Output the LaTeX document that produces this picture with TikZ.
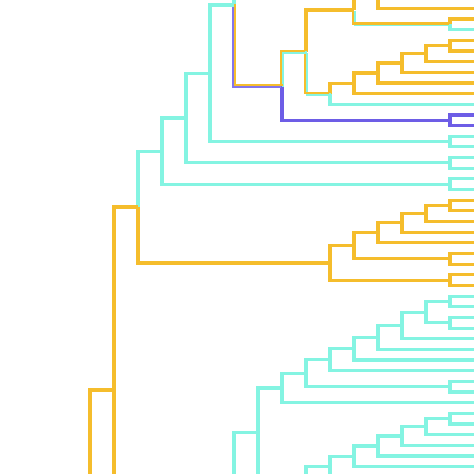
\documentclass[tikz,border=0pt]{standalone}
\definecolor{org}{HTML}{F5BD2C}
\definecolor{cyn}{HTML}{84F4E2}
\definecolor{prp}{HTML}{6D5DE6}
\tikzset{
  br/.style={line width=3.2pt, line cap=butt, line join=miter},
  o/.style={br, draw=org},
  c/.style={br, draw=cyn},
  p/.style={br, draw=prp},
  mixlo/.style={br, line width=2.6pt, draw=cyn, transform canvas={xshift=0.9pt,yshift=-0.9pt}},
  mixhi/.style={br, line width=2.6pt, draw=org, transform canvas={xshift=-0.9pt,yshift=0.9pt}},
  polo/.style={br, line width=2.4pt, draw=org, transform canvas={xshift=1pt,yshift=1pt}},
  pohi/.style={br, line width=2.4pt, draw=prp!85!white, transform canvas={xshift=-1pt,yshift=-1pt}},
}
\newcommand\elbowOC[2]{\draw[mixlo] (#1) |- (#2); \draw[mixhi] (#1) |- (#2);}
\newcommand\elbowPO[2]{\draw[polo] (#1) |- (#2); \draw[pohi] (#1) |- (#2);}
\begin{document}
\begin{tikzpicture}[x=1pt,y=-1pt]
\useasboundingbox (0,0) rectangle (474,474);
\clip (0,0) rectangle (474,474);
% leaves
\foreach \k in {0,...,44} {\coordinate (k\k) at (480,{8.3+10.66*\k});}
% off-image children
\coordinate (Aup) at (480,-17);
\coordinate (Hup) at (258,-76);
\coordinate (Mlow) at (138,573);
\coordinate (S6low) at (330,488);
\coordinate (Tlow) at (258,560);
% internal nodes: top part
\coordinate (A) at (378,-4.3);
\coordinate (P12) at (450,24.29);
\coordinate (B) at (354,10);
\coordinate (P34) at (450,45.61);
\coordinate (N5) at (426,53.6);
\coordinate (N6) at (402,62.93);
\coordinate (E) at (378,72.93);
\coordinate (D) at (354,83.25);
\coordinate (C) at (330,93.75);
\coordinate (F) at (306,51.87);
\coordinate (P1011) at (450,120.23);
\coordinate (G) at (282,86.05);
\coordinate (H) at (234,5);
\coordinate (P1213) at (450,141.55);
\coordinate (I) at (210,73.28);
\coordinate (P1415) at (450,162.87);
\coordinate (J) at (186,118.07);
\coordinate (P1617) at (450,184.19);
\coordinate (K) at (162,151.13);
% orange cluster
\coordinate (P1819) at (450,205.51);
\coordinate (O1) at (426,213.5);
\coordinate (O2) at (402,222.83);
\coordinate (O3) at (378,232.83);
\coordinate (P2324) at (450,258.81);
\coordinate (O4) at (354,245.82);
\coordinate (P2526) at (450,280.13);
\coordinate (O5) at (330,262.98);
\coordinate (L) at (138,207.05);
\coordinate (M) at (114,390);
\coordinate (R) at (90,600);
% lower cyan cluster
\coordinate (P2728) at (450,301.45);
\coordinate (P2930) at (450,322.77);
\coordinate (Q1) at (426,312.11);
\coordinate (Q2) at (402,325.44);
\coordinate (Q3) at (378,337.43);
\coordinate (Q4) at (354,348.76);
\coordinate (Q5) at (330,359.75);
\coordinate (P3536) at (450,386.73);
\coordinate (Q6) at (306,373.24);
\coordinate (Q7) at (282,387.98);
\coordinate (P3839) at (450,418.71);
\coordinate (S1) at (426,426.7);
\coordinate (S2) at (402,436.03);
\coordinate (S3) at (378,446.03);
\coordinate (S4) at (354,456.35);
\coordinate (S5) at (330,466.85);
\coordinate (S6) at (306,477.4);
\coordinate (Q8) at (258,432.7);
\coordinate (T) at (234,520);

% ---- top part
\draw[o] (A) |- (Aup);
\draw[o] (A) |- (k0);
\draw[o] (B) |- (A);
\draw[o] (P12) |- (k1);
\draw[c] (P12) |- (k2);
\elbowOC{B}{P12}
\draw[o] (P34) |- (k3);
\draw[o] (P34) |- (k4);
\draw[o] (N5) |- (P34);
\draw[o] (N5) |- (k5);
\draw[o] (N6) |- (N5);
\draw[o] (N6) |- (k6);
\draw[o] (E) |- (N6);
\draw[o] (E) |- (k7);
\draw[o] (D) |- (E);
\draw[o] (D) |- (k8);
\draw[o] (C) |- (D);
\draw[c] (C) |- (k9);
\draw[o] (F) |- (B);
\elbowOC{F}{C}
\draw[p] (P1011) |- (k10);
\draw[p] (P1011) |- (k11);
\draw[p] (G) |- (P1011);
\elbowOC{G}{F}
\draw[c] (H) |- (Hup);
\elbowPO{H}{G}
\draw[c] (P1213) |- (k12);
\draw[c] (P1213) |- (k13);
\draw[c] (I) |- (H);
\draw[c] (I) |- (P1213);
\draw[c] (P1415) |- (k14);
\draw[c] (P1415) |- (k15);
\draw[c] (J) |- (I);
\draw[c] (J) |- (P1415);
\draw[c] (P1617) |- (k16);
\draw[c] (P1617) |- (k17);
\draw[c] (K) |- (J);
\draw[c] (K) |- (P1617);
% ---- orange cluster
\draw[o] (P1819) |- (k18);
\draw[o] (P1819) |- (k19);
\draw[o] (O1) |- (P1819);
\draw[o] (O1) |- (k20);
\draw[o] (O2) |- (O1);
\draw[o] (O2) |- (k21);
\draw[o] (O3) |- (O2);
\draw[o] (O3) |- (k22);
\draw[o] (P2324) |- (k23);
\draw[o] (P2324) |- (k24);
\draw[o] (O4) |- (O3);
\draw[o] (O4) |- (P2324);
\draw[o] (P2526) |- (k25);
\draw[o] (P2526) |- (k26);
\draw[o] (O5) |- (O4);
\draw[o] (O5) |- (P2526);
\draw[c] (L) |- (K);
\draw[o] (L) |- (O5);
\draw[o] (M) |- (L);
\draw[o] (M) |- (Mlow);
\draw[o] (R) |- (M);
% ---- lower cyan cluster
\draw[c] (P2728) |- (k27);
\draw[c] (P2728) |- (k28);
\draw[c] (P2930) |- (k29);
\draw[c] (P2930) |- (k30);
\draw[c] (Q1) |- (P2728);
\draw[c] (Q1) |- (P2930);
\draw[c] (Q2) |- (Q1);
\draw[c] (Q2) |- (k31);
\draw[c] (Q3) |- (Q2);
\draw[c] (Q3) |- (k32);
\draw[c] (Q4) |- (Q3);
\draw[c] (Q4) |- (k33);
\draw[c] (Q5) |- (Q4);
\draw[c] (Q5) |- (k34);
\draw[c] (P3536) |- (k35);
\draw[c] (P3536) |- (k36);
\draw[c] (Q6) |- (Q5);
\draw[c] (Q6) |- (P3536);
\draw[c] (Q7) |- (Q6);
\draw[c] (Q7) |- (k37);
\draw[c] (P3839) |- (k38);
\draw[c] (P3839) |- (k39);
\draw[c] (S1) |- (P3839);
\draw[c] (S1) |- (k40);
\draw[c] (S2) |- (S1);
\draw[c] (S2) |- (k41);
\draw[c] (S3) |- (S2);
\draw[c] (S3) |- (k42);
\draw[c] (S4) |- (S3);
\draw[c] (S4) |- (k43);
\draw[c] (S5) |- (S4);
\draw[c] (S5) |- (k44);
\draw[c] (S6) |- (S5);
\draw[c] (S6) |- (S6low);
\draw[c] (Q8) |- (Q7);
\draw[c] (Q8) |- (S6);
\draw[c] (T) |- (Q8);
\draw[c] (T) |- (Tlow);
\end{tikzpicture}
\end{document}
